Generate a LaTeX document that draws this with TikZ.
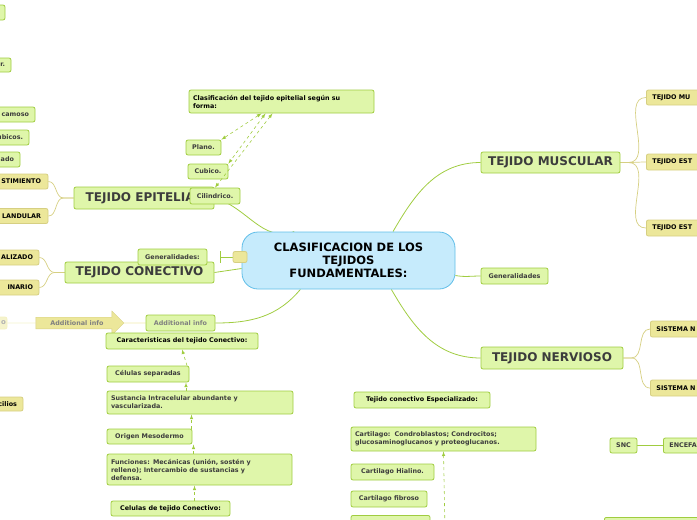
\documentclass[tikz,border=0pt]{standalone}
\usepackage{fontspec}
\setmainfont{DejaVu Sans}
\usetikzlibrary{shapes.arrows,backgrounds}
\definecolor{grn}{RGB}{160,204,64}
\definecolor{lgrn}{RGB}{223,246,170}
\definecolor{ylw}{RGB}{236,231,154}
\definecolor{dylw}{RGB}{214,207,130}
\definecolor{lblue}{RGB}{198,235,252}
\definecolor{dblue}{RGB}{96,190,232}
\definecolor{txt}{RGB}{60,60,60}
\tikzset{
  box/.style={draw=grn,fill=lgrn,rounded corners=2pt,line width=0.8pt,inner sep=0pt,
    font=\bfseries\fontsize{6.4}{8}\selectfont,text=txt},
  yel/.style={box,draw=dylw,fill=ylw,text=black},
  big/.style={box,font=\bfseries\fontsize{12}{14}\selectfont},
  sz/.style 2 args={minimum width=#1,minimum height=#2},
  lw/.style={align=left,text width=#1},
  cut/.style={align=right,text width=#1},
  link/.style={grn,line width=0.8pt},
  ylink/.style={dylw,line width=0.7pt},
  dsh/.style={grn,dashed,line width=0.6pt,>=latex},
}
\begin{document}
\begin{tikzpicture}[x=1pt,y=-1pt]
  \useasboundingbox (0,0) rectangle (697,520);
  \clip (0,0) rectangle (697,520);

  % centre
  \node[box,draw=dblue,fill=lblue,rounded corners=16pt,text=black,align=center,
    font=\bfseries\fontsize{11.5}{13}\selectfont,sz={213}{57}] (cen) at (348.5,260.5)
    {CLASIFICACION DE LOS\\TEJIDOS\\FUNDAMENTALES:};
  \node[yel,sz={14}{11}] (gsm) at (240,257) {};

  % main branches
  \node[big,sz={140}{22}] (epi) at (144,198) {TEJIDO EPITELIAL};
  \node[big,sz={149}{21}] (con) at (139.5,272.5) {TEJIDO CONECTIVO};
  \node[big,sz={139}{21}] (mus) at (550.5,162.5) {TEJIDO MUSCULAR};
  \node[big,sz={142}{22}] (ner) at (552,358) {TEJIDO NERVIOSO};
  \node[box,sz={67}{16}] (genr) at (514.5,276) {Generalidades};
  \node[box,sz={69}{16}] (genl) at (172.5,257) {Generalidades:};
  \node[box,sz={69}{16},text=gray] (add) at (180.5,323) {Additional info};
  \node[single arrow,draw=dylw,fill=ylw,text=gray,inner sep=2pt,minimum height=88pt,
    minimum width=24pt,single arrow head extend=5pt,
    font=\bfseries\fontsize{6.4}{8}\selectfont] (arr) at (77,323) {Additional info\hspace{18pt}};
  \node[yel,draw=ylw!60,fill=ylw!50,sz={20}{12},text=gray!60,cut=18pt] (addl) at (-3,323) {\scriptsize o};

  % epitelio por forma
  \node[box,lw={177pt},inner xsep=4pt,sz={185}{23},text=black] (clas) at (281.5,101.5)
    {Clasificación del tejido epitelial según su\\forma:};
  \node[box,sz={35}{15}] (pla) at (203.5,147.5) {Plano.};
  \node[box,sz={40}{15}] (cub) at (208,171.5) {Cubico.};
  \node[box,sz={50}{16}] (cil) at (215,196) {Cilindrico.};

  % left border (cut)
  \node[box,sz={40}{15}] (l1) at (-15,12.5) {};
  \node[box,cut={40pt},sz={44}{14}] (l2) at (-11,65) {r.\hspace*{4pt}};
  \node[box,cut={66pt},sz={70}{15}] (l3) at (0,114.5) {camoso\hspace*{4pt}};
  \node[box,cut={60pt},sz={64}{15}] (l4) at (-3,137.5) {ubicos.\hspace*{4pt}};
  \node[box,cut={56pt},sz={60}{15}] (l5) at (-10,159.5) {ado\hspace*{4pt}};
  \node[yel,cut={90pt},sz={96}{15}] (y1) at (0,181.5) {STIMIENTO\hspace*{4pt}};
  \node[yel,cut={90pt},sz={96}{15}] (y2) at (0,216) {LANDULAR\hspace*{4pt}};
  \node[yel,cut={76pt},sz={80}{15}] (y3) at (-1,257.5) {ALIZADO\hspace*{4pt}};
  \node[yel,cut={76pt},sz={80}{15}] (y4) at (-1,287.5) {INARIO\hspace*{4pt}};
  \node[yel,cut={56pt},sz={60}{14}] (y5) at (-7,404) {cilios\hspace*{4pt}};

  % right border (cut)
  \node[yel,lw={96pt},inner xsep=6pt,sz={108}{15},anchor=west] (m1) at (646,97.5) {TEJIDO MU};
  \node[yel,lw={96pt},inner xsep=6pt,sz={108}{16},anchor=west] (m2) at (646,162) {TEJIDO EST};
  \node[yel,lw={96pt},inner xsep=6pt,sz={108}{16},anchor=west] (m3) at (646,228) {TEJIDO EST};
  \node[yel,lw={96pt},inner xsep=6pt,sz={108}{16},anchor=west] (n1) at (650,329) {SISTEMA N};
  \node[yel,lw={96pt},inner xsep=6pt,sz={108}{16},anchor=west] (n2) at (650,388) {SISTEMA N};
  \node[box,sz={27}{15}] (snc) at (623.5,445.5) {SNC};
  \node[box,lw={60pt},inner xsep=6pt,sz={72}{15},anchor=west] (enc) at (663,445.5) {ENCEFA};
  \node[box,sz={100}{20},anchor=north west] (br) at (604,517) {};

  % caracteristicas del conectivo
  \node[box,sz={152}{16},text=black] (car) at (182,341) {Caracteristicas del tejido Conectivo:};
  \node[box,sz={82}{16}] (sep) at (148,374) {Células separadas};
  \node[box,lw={178pt},inner xsep=4pt,sz={186}{23}] (sus) at (200,402.5)
    {Sustancia Intracelular abundante y\\vascularizada.};
  \node[box,sz={85}{15}] (ori) at (149.5,436.5) {Origen Mesodermo};
  \node[box,lw={177pt},inner xsep=4pt,sz={185}{31}] (fun) at (199.5,469.5)
    {Funciones: Mecánicas (unión, sostén y\\relleno); Intercambio de sustancias y\\defensa.};
  \node[box,sz={119}{15},text=black] (cel) at (170.5,508.5) {Celulas de tejido Conectivo:};

  % conectivo especializado
  \node[box,sz={136}{16},text=black] (esp) at (422,400) {Tejido conectivo Especializado:};
  \node[box,lw={177pt},inner xsep=4pt,sz={185}{24}] (cart) at (443.5,439)
    {Cartilago:\ \ Condroblastos; Condrocitos;\\glucosaminoglucanos y proteoglucanos.};
  \node[box,sz={83}{16}] (hia) at (392.5,472) {Cartilago Hialino.};
  \node[box,sz={76}{16}] (fib) at (389,499) {Cartílago fibroso};
  \node[box,sz={79}{16},anchor=north] (cx) at (390.5,515) {};
  \coordinate (cend) at (445,530);

  \begin{scope}[on background layer]
    \draw[link] (cen.152) to[out=200,in=-15] (epi.east);
    \draw[link] (cen.west) ++(0,8) coordinate (cw) (cw) -- (con.east);
    \draw[link] (cen.211) to[out=230,in=0] (add.east);
    \draw[link] (cen.33) to[out=60,in=180] (mus.west);
    \draw[link] (cen.-8) to[out=-10,in=180] (genr.west);
    \draw[link] (cen.-34) to[out=-60,in=180] (ner.west);
    \draw[link] (gsm.west) ++(-12,0) coordinate (gt) (gt) -- (gsm.west);
    \draw[link] (gt) ++(0,-6) -- ++(0,12);
    \draw[ylink,draw=ylw!80] (add.west) -- (arr.east);
    \draw[ylink,draw=ylw!50] (arr.west) -- (addl.east);
    \foreach \t in {y1,y2} \draw[ylink] (epi.west) -- ++(-10,0) to[out=180,in=0] (\t.east);
    \foreach \t in {y3,y4} \draw[ylink] (con.west) -- ++(-10,0) to[out=180,in=0] (\t.east);
    \foreach \t in {m1,m2,m3} \draw[ylink] (mus.east) -- ++(8,0) to[out=0,in=180] (\t.west);
    \foreach \t in {n1,n2} \draw[ylink] (ner.east) -- ++(8,0) to[out=0,in=180] (\t.west);
    \draw[link] (snc) -- (enc);
  \end{scope}

  % dashed links
  \draw[dsh,<->] (clas.south) ++(-20,0) coordinate (c1) (c1) -- (pla.north east);
  \draw[dsh,<->] (clas.south) ++(-16,0) coordinate (c2) (c2) -- (cub.north east);
  \draw[dsh,<->] (clas.south) ++(-9,0) coordinate (c3) (c3) -- (cil.north);
  \draw[dsh,->] (sep.north) ++(39,0) -- (car.south);
  \draw[dsh,->] (sus.north) ++(-14,0) -- ++(0,-8);
  \draw[dsh,->] (ori.north) ++(42,0) -- ++(0,-14);
  \draw[dsh,->] (fun.north) ++(-6,0) -- ++(0,-9);
  \draw[dsh,->] (cel.north) ++(24,0) -- ++(0,-15);
  \draw[dsh,->] (cend) -- (cart.south);
\end{tikzpicture}
\end{document}
